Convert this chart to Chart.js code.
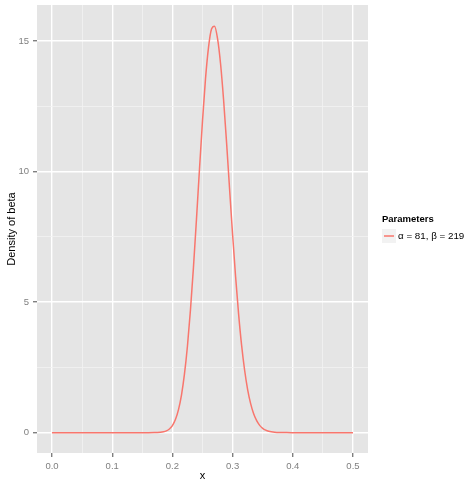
<!DOCTYPE html>
<html>
<head>
<meta charset="utf-8">
<script src="https://cdn.jsdelivr.net/npm/chart.js@4"></script>
<style>
  html, body { margin: 0; padding: 0; background: #ffffff; }
  #wrap { width: 474px; height: 487px; }
</style>
</head>
<body>
<div id="wrap"><canvas id="betaChart" width="474" height="487"></canvas></div>
<script>
// values (density of beta, a = 81, b = 219)
const xValues = [0, 0.05, 0.1, 0.15, 0.16, 0.17, 0.175, 0.18, 0.185, 0.19, 0.195,
  0.2, 0.205, 0.21, 0.215, 0.22, 0.225, 0.23, 0.235, 0.24, 0.245,
  0.25, 0.255, 0.26, 0.265, 0.27, 0.275, 0.28, 0.285, 0.29, 0.295,
  0.3, 0.305, 0.31, 0.315, 0.32, 0.325, 0.33, 0.335, 0.34, 0.345,
  0.35, 0.355, 0.36, 0.37, 0.38, 0.39, 0.4, 0.45, 0.5];
const densityValues = [0, 0, 0, 0, 0, 0.002, 0.005, 0.013, 0.031, 0.067, 0.14,
  0.27, 0.5, 0.87, 1.43, 2.24, 3.32, 4.7, 6.34, 8.18, 10.1,
  11.94, 13.56, 14.76, 15.46, 15.57, 15.09, 14.13, 12.76, 11.11, 9.33,
  7.59, 5.97, 4.54, 3.34, 2.39, 1.65, 1.11, 0.72, 0.457, 0.279,
  0.166, 0.096, 0.054, 0.016, 0.004, 0.001, 0, 0, 0];
const xTicks = [0, 0.05, 0.1, 0.15, 0.2, 0.25, 0.3, 0.35, 0.4, 0.45, 0.5];
const yTicks = [0, 2.5, 5, 7.5, 10, 12.5, 15];
const seriesLabel = "\u03b1 = 81, \u03b2 = 219";
const legendTitle = "Parameters";

const FONT = "'Liberation Sans', Arial, Helvetica, sans-serif";
const LINE_COLOR = "#F8766D";

// grey panel + white page
const panelBg = {
  id: "panelBg",
  beforeDraw(chart) {
    const { ctx, chartArea: a } = chart;
    ctx.save();
    ctx.fillStyle = "#ffffff";
    ctx.fillRect(0, 0, chart.width, chart.height);
    ctx.fillStyle = "#E5E5E5";
    ctx.fillRect(a.left, a.top, a.right - a.left, a.bottom - a.top);
    ctx.restore();
  }
};

// ggplot style legend on the right
const sideLegend = {
  id: "sideLegend",
  afterDraw(chart) {
    const ctx = chart.ctx;
    const x0 = chart.chartArea.right + 14;
    ctx.save();
    ctx.fillStyle = "#000000";
    ctx.textBaseline = "alphabetic";
    ctx.textAlign = "left";
    ctx.font = "bold 9.5px " + FONT;
    ctx.fillText(legendTitle, x0, 222);

    ctx.fillStyle = "#F2F2F2";
    ctx.fillRect(x0, 229, 14, 14);
    ctx.strokeStyle = LINE_COLOR;
    ctx.lineWidth = 1.5;
    ctx.beginPath();
    ctx.moveTo(x0 + 2, 236);
    ctx.lineTo(x0 + 12, 236);
    ctx.stroke();

    ctx.fillStyle = "#000000";
    ctx.font = "9.8px " + FONT;
    ctx.textBaseline = "middle";
    ctx.fillText(seriesLabel, x0 + 16, 236.5);
    ctx.restore();
  }
};

const gridColor = (c) => (c.index % 2 === 0 ? "#ffffff" : "#F2F2F2");
const gridWidth = (c) => (c.index % 2 === 0 ? 1.4 : 0.8);
const tickColor = (c) => (c.index % 2 === 0 ? "#7F7F7F" : "rgba(0,0,0,0)");

new Chart(document.getElementById("betaChart"), {
  type: "line",
  data: {
    datasets: [{
      label: seriesLabel,
      data: xValues.map((x, i) => ({ x: x, y: densityValues[i] })),
      borderColor: LINE_COLOR,
      borderWidth: 1.5,
      pointRadius: 0,
      fill: false,
      cubicInterpolationMode: "monotone"
    }]
  },
  options: {
    responsive: false,
    animation: false,
    layout: { padding: { left: 0, top: 5, right: 106, bottom: 0 } },
    plugins: { legend: { display: false }, tooltip: { enabled: false } },
    scales: {
      x: {
        type: "linear",
        min: -0.025,
        max: 0.525,
        afterBuildTicks: (s) => { s.ticks = xTicks.map(v => ({ value: v })); },
        afterFit: (s) => { s.height = 34; s.paddingLeft = 0; s.paddingRight = 0; },
        border: { display: false },
        grid: { color: gridColor, lineWidth: gridWidth, tickColor: tickColor, tickLength: 4 },
        ticks: {
          autoSkip: false,
          maxRotation: 0,
          padding: 4,
          color: "#7F7F7F",
          font: { family: FONT, size: 9.5 },
          callback: (v, i) => (i % 2 === 0 ? v.toFixed(1) : "")
        },
        title: {
          display: true,
          text: "x",
          color: "#000000",
          font: { family: FONT, size: 11 },
          padding: { top: 0, bottom: 4 }
        }
      },
      y: {
        type: "linear",
        min: -0.78,
        max: 16.38,
        afterBuildTicks: (s) => { s.ticks = yTicks.map(v => ({ value: v })); },
        afterFit: (s) => { s.width = 37; s.paddingTop = 0; s.paddingBottom = 0; },
        border: { display: false },
        grid: { color: gridColor, lineWidth: gridWidth, tickColor: tickColor, tickLength: 4 },
        ticks: {
          autoSkip: false,
          padding: 4,
          color: "#7F7F7F",
          font: { family: FONT, size: 9.5 },
          callback: (v, i) => (i % 2 === 0 ? String(v) : "")
        },
        title: {
          display: true,
          text: "Density of beta",
          color: "#000000",
          font: { family: FONT, size: 11 },
          padding: { top: 5, bottom: 0 }
        }
      }
    }
  },
  plugins: [panelBg, sideLegend]
});
</script>
</body>
</html>
